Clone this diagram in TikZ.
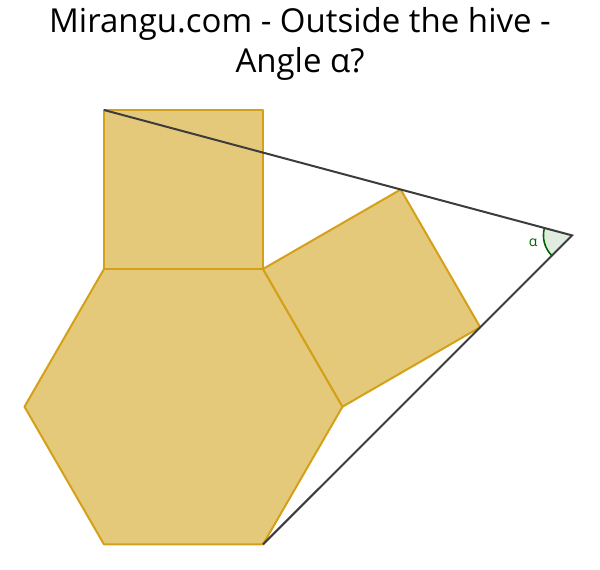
\documentclass[tikz,border=0pt]{standalone}
\usepackage{fontspec}
\setmainfont{Open Sans}
\definecolor{hivefill}{RGB}{229,201,122}
\definecolor{hiveedge}{RGB}{212,160,23}
\definecolor{lineg}{RGB}{60,60,60}
\definecolor{anglegreen}{RGB}{0,100,0}
\begin{document}
\begin{tikzpicture}[x=159pt,y=159pt,
  cell/.style={fill=hivefill,draw=hiveedge,line width=2pt,line join=round},
  ray/.style={draw=lineg,line width=2pt},
  title/.style={anchor=base,font=\fontsize{33}{38}\selectfont}]
\useasboundingbox (-104/159,269/159) rectangle (496/159,-301/159);
\coordinate (A) at (0,0);
\coordinate (B) at (1,0);
\coordinate (C) at (3/2,-0.8660);
\coordinate (D) at (1,-1.7321);
\coordinate (E) at (0,-1.7321);
\coordinate (F) at (-1/2,-0.8660);
\coordinate (G) at (0,1);
\coordinate (H) at (1,1);
\coordinate (Bq) at (1.8660,1/2);
\coordinate (Cq) at (2.3660,-0.3660);
\coordinate (P) at (intersection of G--Bq and D--Cq);
\draw[cell] (A) -- (B) -- (C) -- (D) -- (E) -- (F) -- cycle;
\draw[cell] (A) -- (B) -- (H) -- (G) -- cycle;
\draw[cell] (B) -- (C) -- (Cq) -- (Bq) -- cycle;
\fill[anglegreen!12] (P) -- ++(165:0.18) arc[start angle=165,end angle=225,radius=0.18] -- cycle;
\draw[anglegreen,line width=1.6pt] (P) ++(165:0.18) arc[start angle=165,end angle=225,radius=0.18];
\draw[ray] (G) -- (P) -- (D);
\node[text=anglegreen,font=\fontsize{14}{16}\selectfont] (alpha) at ([shift={(191:0.25)}]P) {α};
\node[title] (title1) at (196/159,236.7/159) {Mirangu.com - Outside the hive -};
\node[title] (title2) at (196/159,196.7/159) {Angle α?};
\end{tikzpicture}
\end{document}
